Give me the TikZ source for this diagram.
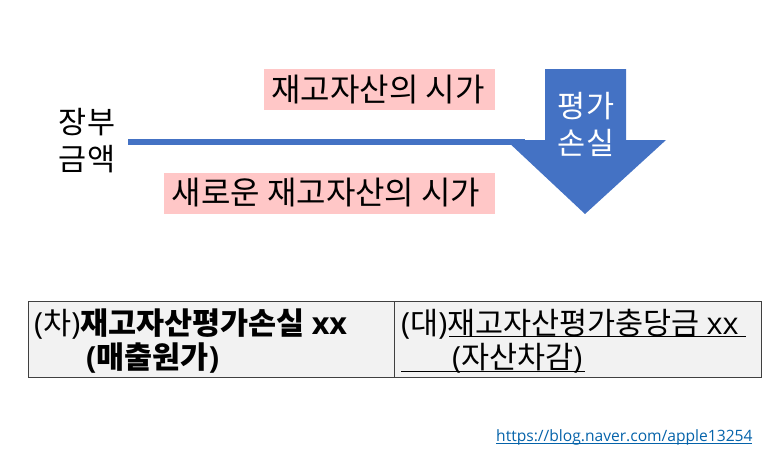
\documentclass[tikz,border=0pt]{standalone}
\usepackage{fontspec}
\setmainfont{Noto Sans CJK KR}
\newfontfamily\urlfont{Open Sans}
\newcommand{\lat}[1]{{\urlfont #1}}
\usetikzlibrary{positioning}
\definecolor{myblue}{RGB}{68, 114, 196}
\definecolor{mypink}{RGB}{255, 199, 199}
\definecolor{mygray1}{RGB}{242, 242, 242}
\definecolor{mygray2}{RGB}{64, 64, 64}
\definecolor{mylink}{RGB}{5, 99, 170}
\tikzset{
  pinkbox/.style = {fill = mypink, minimum height = 41pt, inner sep = 0pt, anchor = north west},
  bigtext/.style = {font = \fontsize{32}{38}\selectfont, inner sep = 0pt},
  twolines/.style = {align = center, inner sep = 0pt, font = \fontsize{30.5}{37}\selectfont},
  celltext/.style = {font = \fontsize{30.5}{36}\selectfont, inner sep = 0pt, anchor = base west},
  cellbox/.style = {draw = mygray2, fill = mygray1, line width = 1.2pt, minimum height = 76pt, inner sep = 0pt, anchor = north west}
}
\begin{document}
\begin{tikzpicture}[x = 1pt, y = -1pt]
\useasboundingbox (0, 0) rectangle (773, 451);

% price boxes
\node[pinkbox, minimum width = 231pt] (boxa) at (264, 69) {};
\node[pinkbox, minimum width = 331pt] (boxb) at (164, 173) {};
\node[bigtext] (pricea) at (378, 90) {재고자산의 시가};
\node[bigtext] (priceb) at (326, 193) {새로운 재고자산의 시가};

% book value line and arrow
\node[twolines] (book) at (87, 141) {장부\\금액};
\coordinate (lineend) at (525, 142.3);
\draw[myblue, line width = 6pt] (128, 142.3) -- (lineend);
\fill[myblue] (545, 69) -- (626, 69) -- (626, 140) -- (666, 140) -- (585, 214) -- (506, 140) -- (545, 140) -- cycle;
\node[twolines, white] (loss) at (586, 124) {평가\\손실};

% journal entry
\node[cellbox, minimum width = 366pt] (debit) at (28, 301) {};
\node[cellbox, minimum width = 367pt] (credit) at (394, 301) {};
\node[celltext] (debita) at (34, 334) {\lat{(}차\lat{)}\textbf{재고자산평가손실 \lat{xx}}};
\node[celltext] (debitb) at (86, 368) {\textbf{\lat{(}매출원가\lat{)}}};
\node[celltext] (credita) at (401, 334) {\lat{(}대\lat{)}재고자산평가충당금 \lat{xx}};
\node[celltext] (creditb) at (452, 368) {\lat{(}자산차감\lat{)}};
\draw[line width = 1pt] (449, 336.5) -- (746, 336.5);
\draw[line width = 1pt] (401, 371.5) -- (585, 371.5);

% link
\node[inner sep = 0pt, anchor = base west, mylink, font = \urlfont\fontsize{15.6}{20}\selectfont] (link) at (496, 441) {https://blog.naver.com/apple13254};
\draw[mylink, line width = 0.8pt] (496, 443.5) -- (752, 443.5);
\end{tikzpicture}
\end{document}
